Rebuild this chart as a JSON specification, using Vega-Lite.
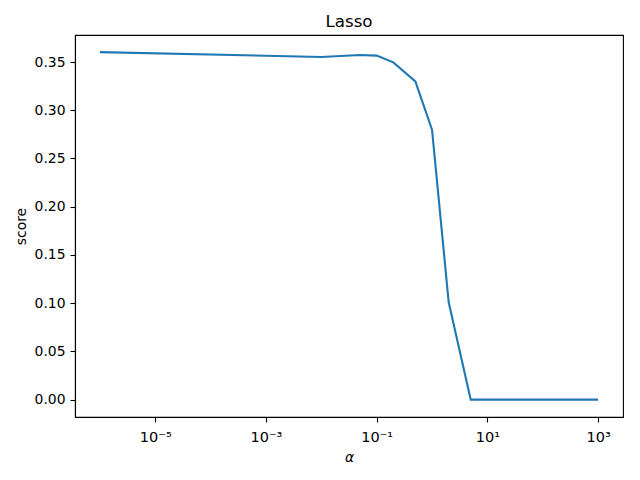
{
  "$schema": "https://vega.github.io/schema/vega-lite/v6.json",
  "width": 548,
  "height": 382,
  "autosize": "none",
  "padding": {"left": 75, "top": 35, "right": 17, "bottom": 63},
  "background": "white",
  "title": {"text": "Lasso", "fontSize": 16.7, "fontWeight": "normal", "font": "DejaVu Sans", "color": "black", "offset": 4},
  "data": {
    "values": [
      {"alpha": 0.000001, "score": 0.3602},
      {"alpha": 0.01, "score": 0.3552},
      {"alpha": 0.05, "score": 0.3572},
      {"alpha": 0.1, "score": 0.3566},
      {"alpha": 0.2, "score": 0.3496},
      {"alpha": 0.5, "score": 0.3299},
      {"alpha": 1, "score": 0.2799},
      {"alpha": 2, "score": 0.1009},
      {"alpha": 5, "score": 0.0},
      {"alpha": 10, "score": 0.0},
      {"alpha": 100, "score": 0.0},
      {"alpha": 1000, "score": 0.0}
    ]
  },
  "mark": {"type": "line", "color": "#1f77b4", "strokeWidth": 2.1},
  "encoding": {
    "x": {
      "field": "alpha",
      "type": "quantitative",
      "title": "α",
      "scale": {"type": "log", "domain": [3.55e-7, 2818], "nice": false},
      "axis": {
        "values": [0.00001, 0.001, 0.1, 10, 1000],
        "labelExpr": "datum.value < 0.0001 ? '10⁻⁵' : datum.value < 0.01 ? '10⁻³' : datum.value < 1 ? '10⁻¹' : datum.value < 100 ? '10¹' : '10³'",
        "labelFontSize": 14.5,
        "labelPadding": 8,
        "titleFontStyle": "italic",
        "titlePadding": 7
      }
    },
    "y": {
      "field": "score",
      "type": "quantitative",
      "title": "score",
      "scale": {"domain": [-0.018, 0.378], "nice": false, "zero": false},
      "axis": {"values": [0, 0.05, 0.1, 0.15, 0.2, 0.25, 0.3, 0.35], "format": ".2f", "titlePadding": 6}
    }
  },
  "config": {
    "font": "DejaVu Sans",
    "view": {"stroke": "black", "strokeWidth": 1.1},
    "axis": {
      "grid": false,
      "domainColor": "black",
      "domainWidth": 1.1,
      "tickColor": "black",
      "tickWidth": 1.1,
      "tickSize": 5,
      "labelPadding": 5,
      "labelFont": "DejaVu Sans",
      "labelFontSize": 13.9,
      "labelColor": "black",
      "titleFont": "DejaVu Sans",
      "titleFontSize": 13.9,
      "titleFontWeight": "normal",
      "titleColor": "black"
    }
  }
}
